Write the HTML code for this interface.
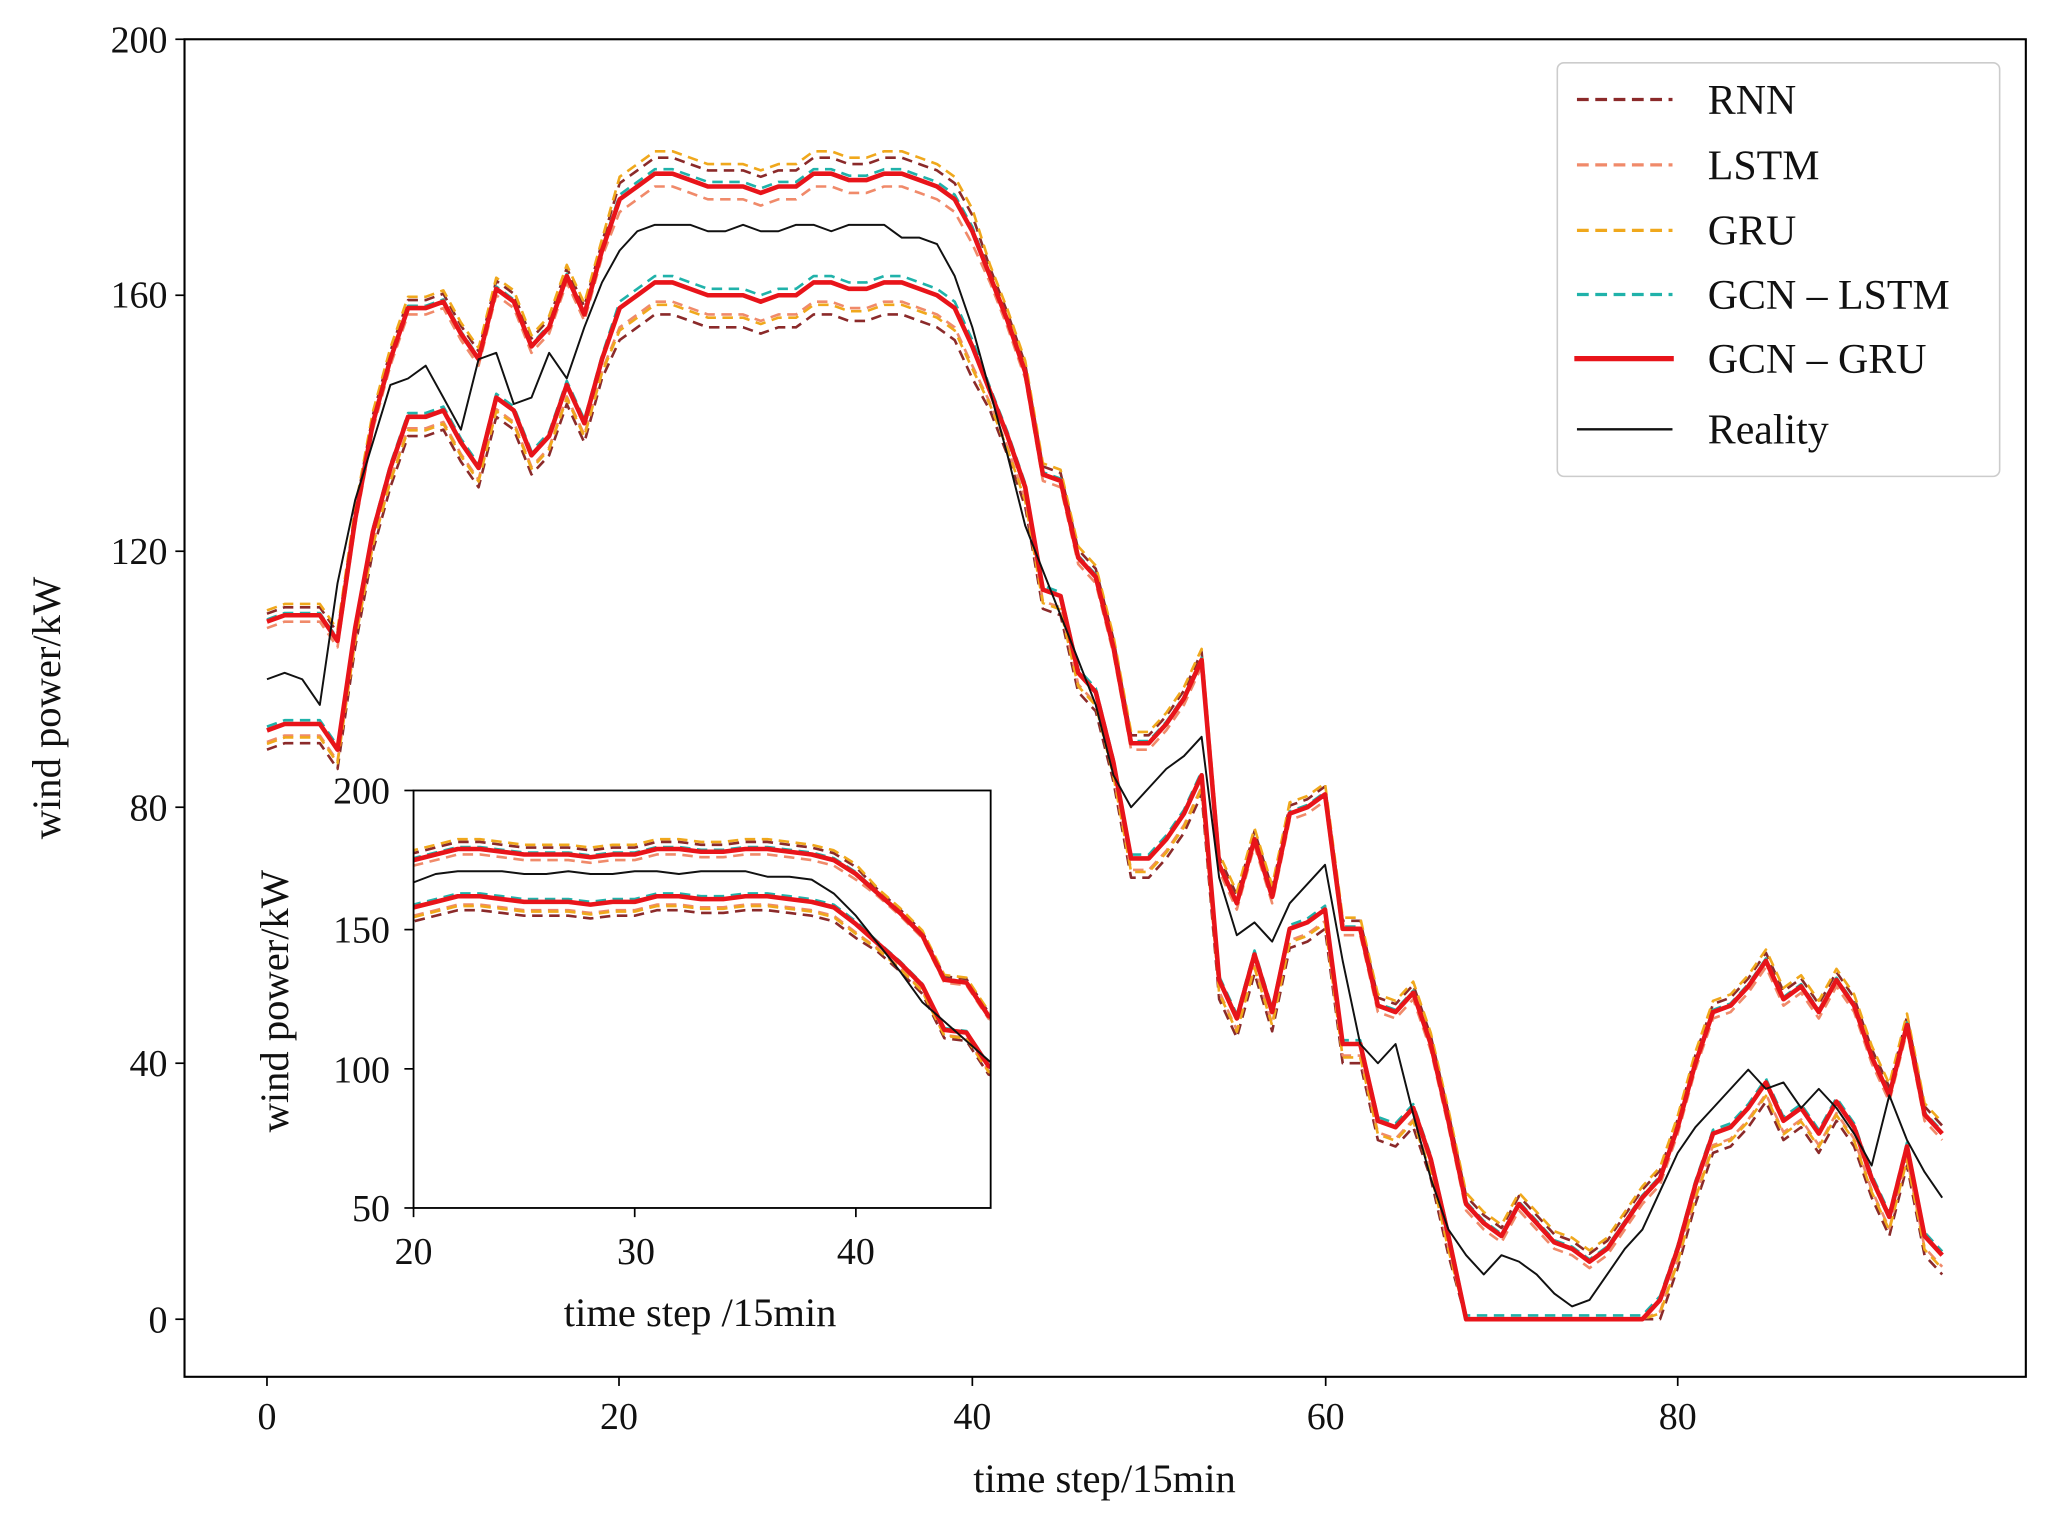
<!DOCTYPE html>
<html><head><meta charset="utf-8"><style>
html,body{margin:0;padding:0;background:#fff;}
svg{display:block;}
text{font-family:"Liberation Serif",serif;fill:#111;}
</style></head><body>
<svg id="s" width="2052" height="1526" viewBox="0 0 1568 1166" preserveAspectRatio="none" xmlns="http://www.w3.org/2000/svg">
<defs>
<clipPath id="cm"><rect x="141" y="30" width="1407" height="1022"/></clipPath>
<clipPath id="ci"><rect x="316" y="604" width="441" height="319"/></clipPath>
</defs>
<rect width="1568" height="1166" fill="#fff"/>
<g id="main" clip-path="url(#cm)"></g>
<rect x="141" y="30" width="1407" height="1022" fill="none" stroke="#000" stroke-width="1.6"/>
<g id="ticks" stroke="#000" stroke-width="1.3"></g>
<g font-size="29" text-anchor="end">
<text x="128" y="40">200</text><text x="128" y="235">160</text><text x="128" y="431">120</text>
<text x="128" y="627">80</text><text x="128" y="822">40</text><text x="128" y="1018">0</text>
</g>
<g font-size="29" text-anchor="middle">
<text x="204" y="1092">0</text><text x="473" y="1092">20</text><text x="743" y="1092">40</text>
<text x="1013" y="1092">60</text><text x="1282" y="1092">80</text>
<text x="844" y="1140" font-size="31">time step/15min</text>
<text transform="translate(46,541) rotate(-90)" font-size="31">wind power/kW</text>
</g>
<!-- inset -->
<rect x="316" y="604" width="441" height="319" fill="#fff"/>
<g id="inset" clip-path="url(#ci)"></g>
<rect x="316" y="604" width="441" height="319" fill="none" stroke="#000" stroke-width="1.4"/>
<g font-size="29" text-anchor="end">
<text x="298" y="614">200</text><text x="298" y="720">150</text><text x="298" y="827">100</text><text x="298" y="933">50</text>
</g>
<g font-size="29" text-anchor="middle">
<text x="316" y="966">20</text><text x="486" y="966">30</text><text x="654" y="966">40</text>
<text x="535" y="1013" font-size="31">time step /15min</text>
<text transform="translate(220,765) rotate(-90)" font-size="31">wind power/kW</text>
</g>
<!-- legend -->
<rect x="1190" y="48" width="338" height="316" rx="5" fill="#fff" stroke="#ccc" stroke-width="1.2"/>
<g stroke-width="2.5">
<line x1="1205" y1="76" x2="1278" y2="76" stroke="#8b2a2a" stroke-dasharray="9,5"/>
<line x1="1205" y1="126" x2="1278" y2="126" stroke="#f08a6a" stroke-dasharray="9,5"/>
<line x1="1205" y1="176" x2="1278" y2="176" stroke="#f0a81c" stroke-dasharray="9,5"/>
<line x1="1205" y1="225" x2="1278" y2="225" stroke="#20b2aa" stroke-dasharray="9,5"/>
<line x1="1203" y1="274" x2="1279" y2="274" stroke="#e8141a" stroke-width="4"/>
<line x1="1205" y1="328" x2="1278" y2="328" stroke="#111" stroke-width="1.8"/>
</g>
<g font-size="32">
<text x="1305" y="87">RNN</text><text x="1305" y="137">LSTM</text><text x="1305" y="187">GRU</text>
<text x="1305" y="236">GCN – LSTM</text><text x="1305" y="285">GCN – GRU</text><text x="1305" y="339">Reality</text>
</g>
</svg>
<script>
var up=[109,110,110,110,106,125,140,150,158,158,159,154,150,161,159,152,155,163,157,167,175,177,179,179,178,177,177,177,176,177,177,179,179,178,178,179,179,178,177,175,170,163,156,148,132,131,119,116,105,90,90,93,97,103,71,65,75,66,79,80,82,61,61,49,48,51,43,31,18,15,13,18,15,12,11,9,11,15,19,22,30,40,48,49,52,56,50,52,48,53,49,41,35,46,32,29];
var re=[100,101,100,96,115,128,137,146,147,149,144,139,150,151,143,144,151,147,155,162,167,170,171,171,171,170,170,171,170,170,171,171,170,171,171,171,169,169,168,163,155,145,135,124,117,110,103,96,85,80,83,86,88,91,69,60,62,59,65,68,71,56,43,40,43,32,22,14,10,7,10,9,7,4,2,3,7,11,14,20,26,30,33,36,39,36,37,33,36,33,29,24,35,28,23,19];
var lo=up.map(function(v,i){var o=i<40?17:(i>=78?19:18);return Math.max(0,v-o);});
var S=[["#8b2a2a",2,"8,5",2.5,-5],["#f08a6a",2,"8,5",-2,-3],["#f0a81c",2,"8,5",3.5,-3.5],["#20b2aa",2,"8,5",0.7,1],["#e8141a",3.5,"",0,0]];
function mk(g,fx,fy,vals,c,w,d){var p="";vals.forEach(function(v,i){p+=(i?"L":"M")+fx(i).toFixed(1)+","+fy(v).toFixed(1);});
var e=document.createElementNS("http://www.w3.org/2000/svg","path");e.setAttribute("d",p);e.setAttribute("fill","none");e.setAttribute("stroke",c);e.setAttribute("stroke-width",w);e.setAttribute("stroke-linejoin","round");if(d)e.setAttribute("stroke-dasharray",d);g.appendChild(e);}
function draw(g,fx,fy){
 S.forEach(function(s){
  mk(g,fx,fy,up.map(function(v,i){var o=s[3];if(i<20||i>40)o=o*0.5;return Math.max(0,v+o);}),s[0],s[1],s[2]);
  mk(g,fx,fy,lo.map(function(v,i){var o=s[4];if(i<20||i>40)o=o*0.6;return Math.max(0,v+o);}),s[0],s[1],s[2]);
 });
 mk(g,fx,fy,re,"#111",1.5,"");
}
draw(document.getElementById("main"),function(i){return 204+13.475*i;},function(v){return 1008-4.89*v;});
draw(document.getElementById("inset"),function(i){return 316+16.9*(i-20);},function(v){return 604+(200-v)*2.127;});
var t=document.getElementById("ticks"),h="";
[30,225.6,421.2,616.8,812.4,1008].forEach(function(y){h+='<line x1="134" y1="'+y+'" x2="141" y2="'+y+'"/>';});
[204,473,743,1013,1282].forEach(function(x){h+='<line x1="'+x+'" y1="1052" x2="'+x+'" y2="1059"/>';});
[604,710.3,816.7,923].forEach(function(y){h+='<line x1="309" y1="'+y+'" x2="316" y2="'+y+'"/>';});
[316,485,654].forEach(function(x){h+='<line x1="'+x+'" y1="923" x2="'+x+'" y2="930"/>';});
t.innerHTML=h;
</script>
</body></html>
